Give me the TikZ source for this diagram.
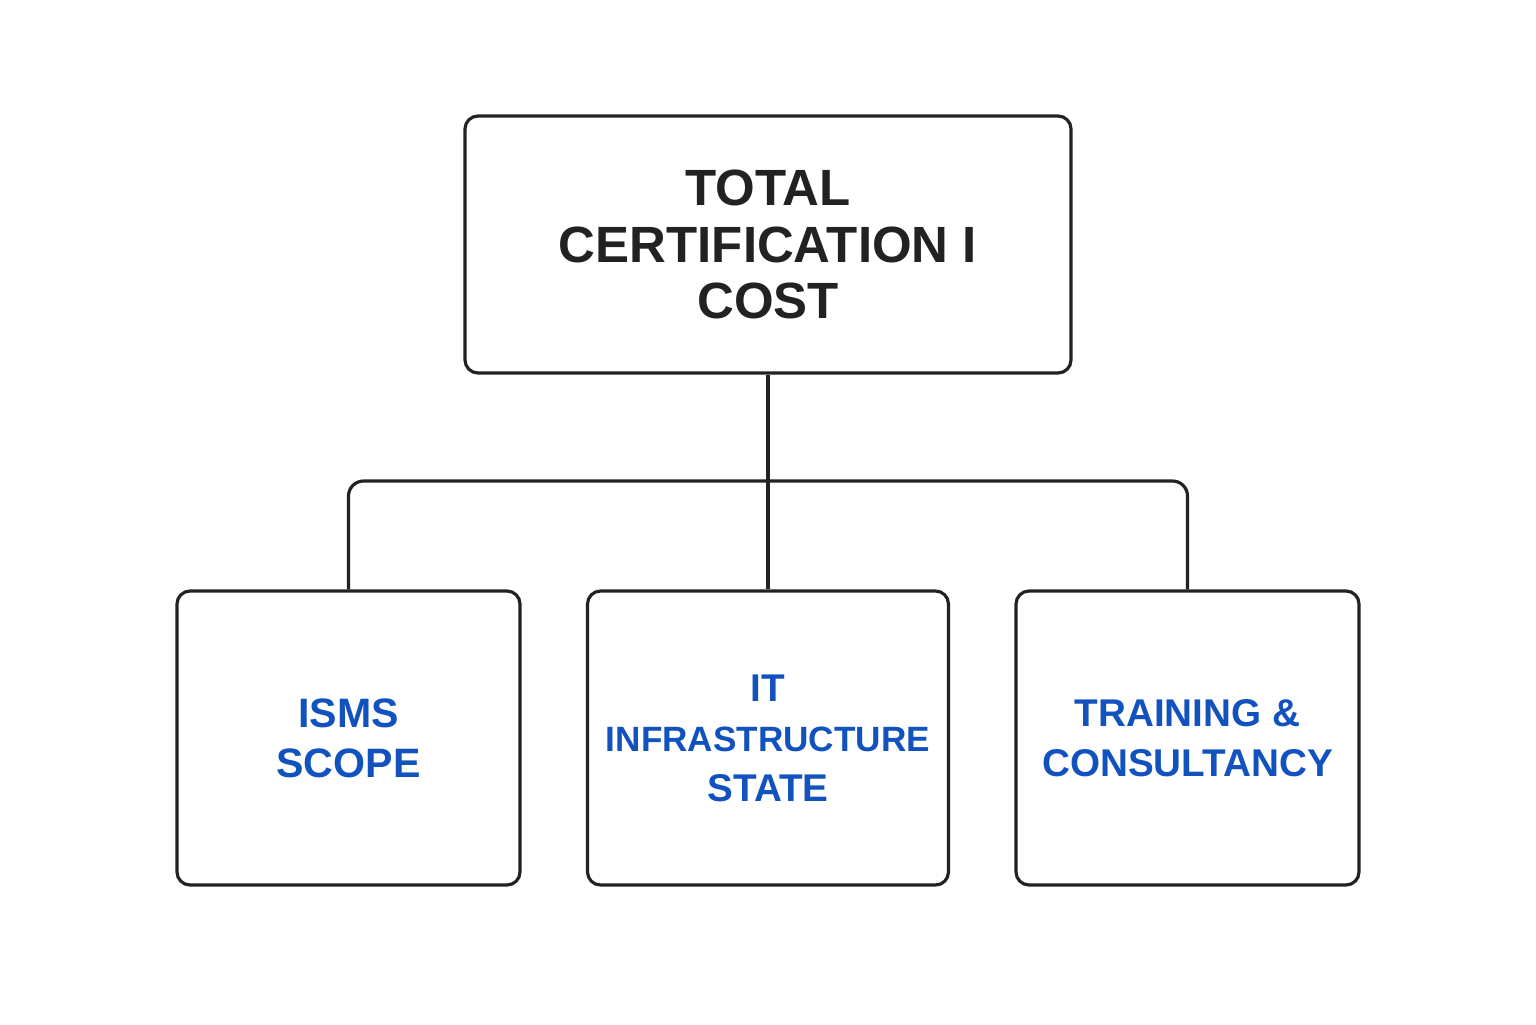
\documentclass[tikz,border=0pt]{standalone}
\usepackage{fontspec}
\setmainfont{Liberation Sans}
\definecolor{ink}{HTML}{222222}
\definecolor{factorblue}{HTML}{1252BE}
\begin{document}
\begin{tikzpicture}
	[	box/.style={rectangle,draw=ink,line width=0.9pt,rounded corners=0.13cm,minimum width=6.06cm,minimum height=2.57cm,align=center,text=ink,font=\bfseries\fontsize{14.5}{16.2}\selectfont},
	factor/.style={box,minimum width=3.43cm,minimum height=2.94cm,text=factorblue,font=\bfseries\fontsize{11}{14.2}\selectfont},
	link/.style={draw=ink,line width=0.9pt}
	]
	\fill[white] (0,0) rectangle (15.36,10.24);
	\useasboundingbox (0,0) rectangle (15.36,10.24);
	\node[box] (total) at (7.68,7.795){TOTAL\\CERTIFICATION I\\COST};

	\node[factor,font=\bfseries\fontsize{11.7}{14.2}\selectfont] (isms) at (3.485,2.86){ISMS\\SCOPE};
	\node[factor,minimum width=3.61cm] (infra) at (7.68,2.86){IT\\{\fontsize{10}{14.2}\selectfont INFRASTRUCTURE}\\STATE};
	\node[factor] (training) at (11.875,2.86){TRAINING \&\\CONSULTANCY};

\coordinate (bus) at (7.68,5.43);
	\draw[link] (total.south) -- (infra.north);
	\draw[link,rounded corners=0.15cm] (isms.north) |- (bus) -| (training.north);
\end{tikzpicture}
\end{document}
